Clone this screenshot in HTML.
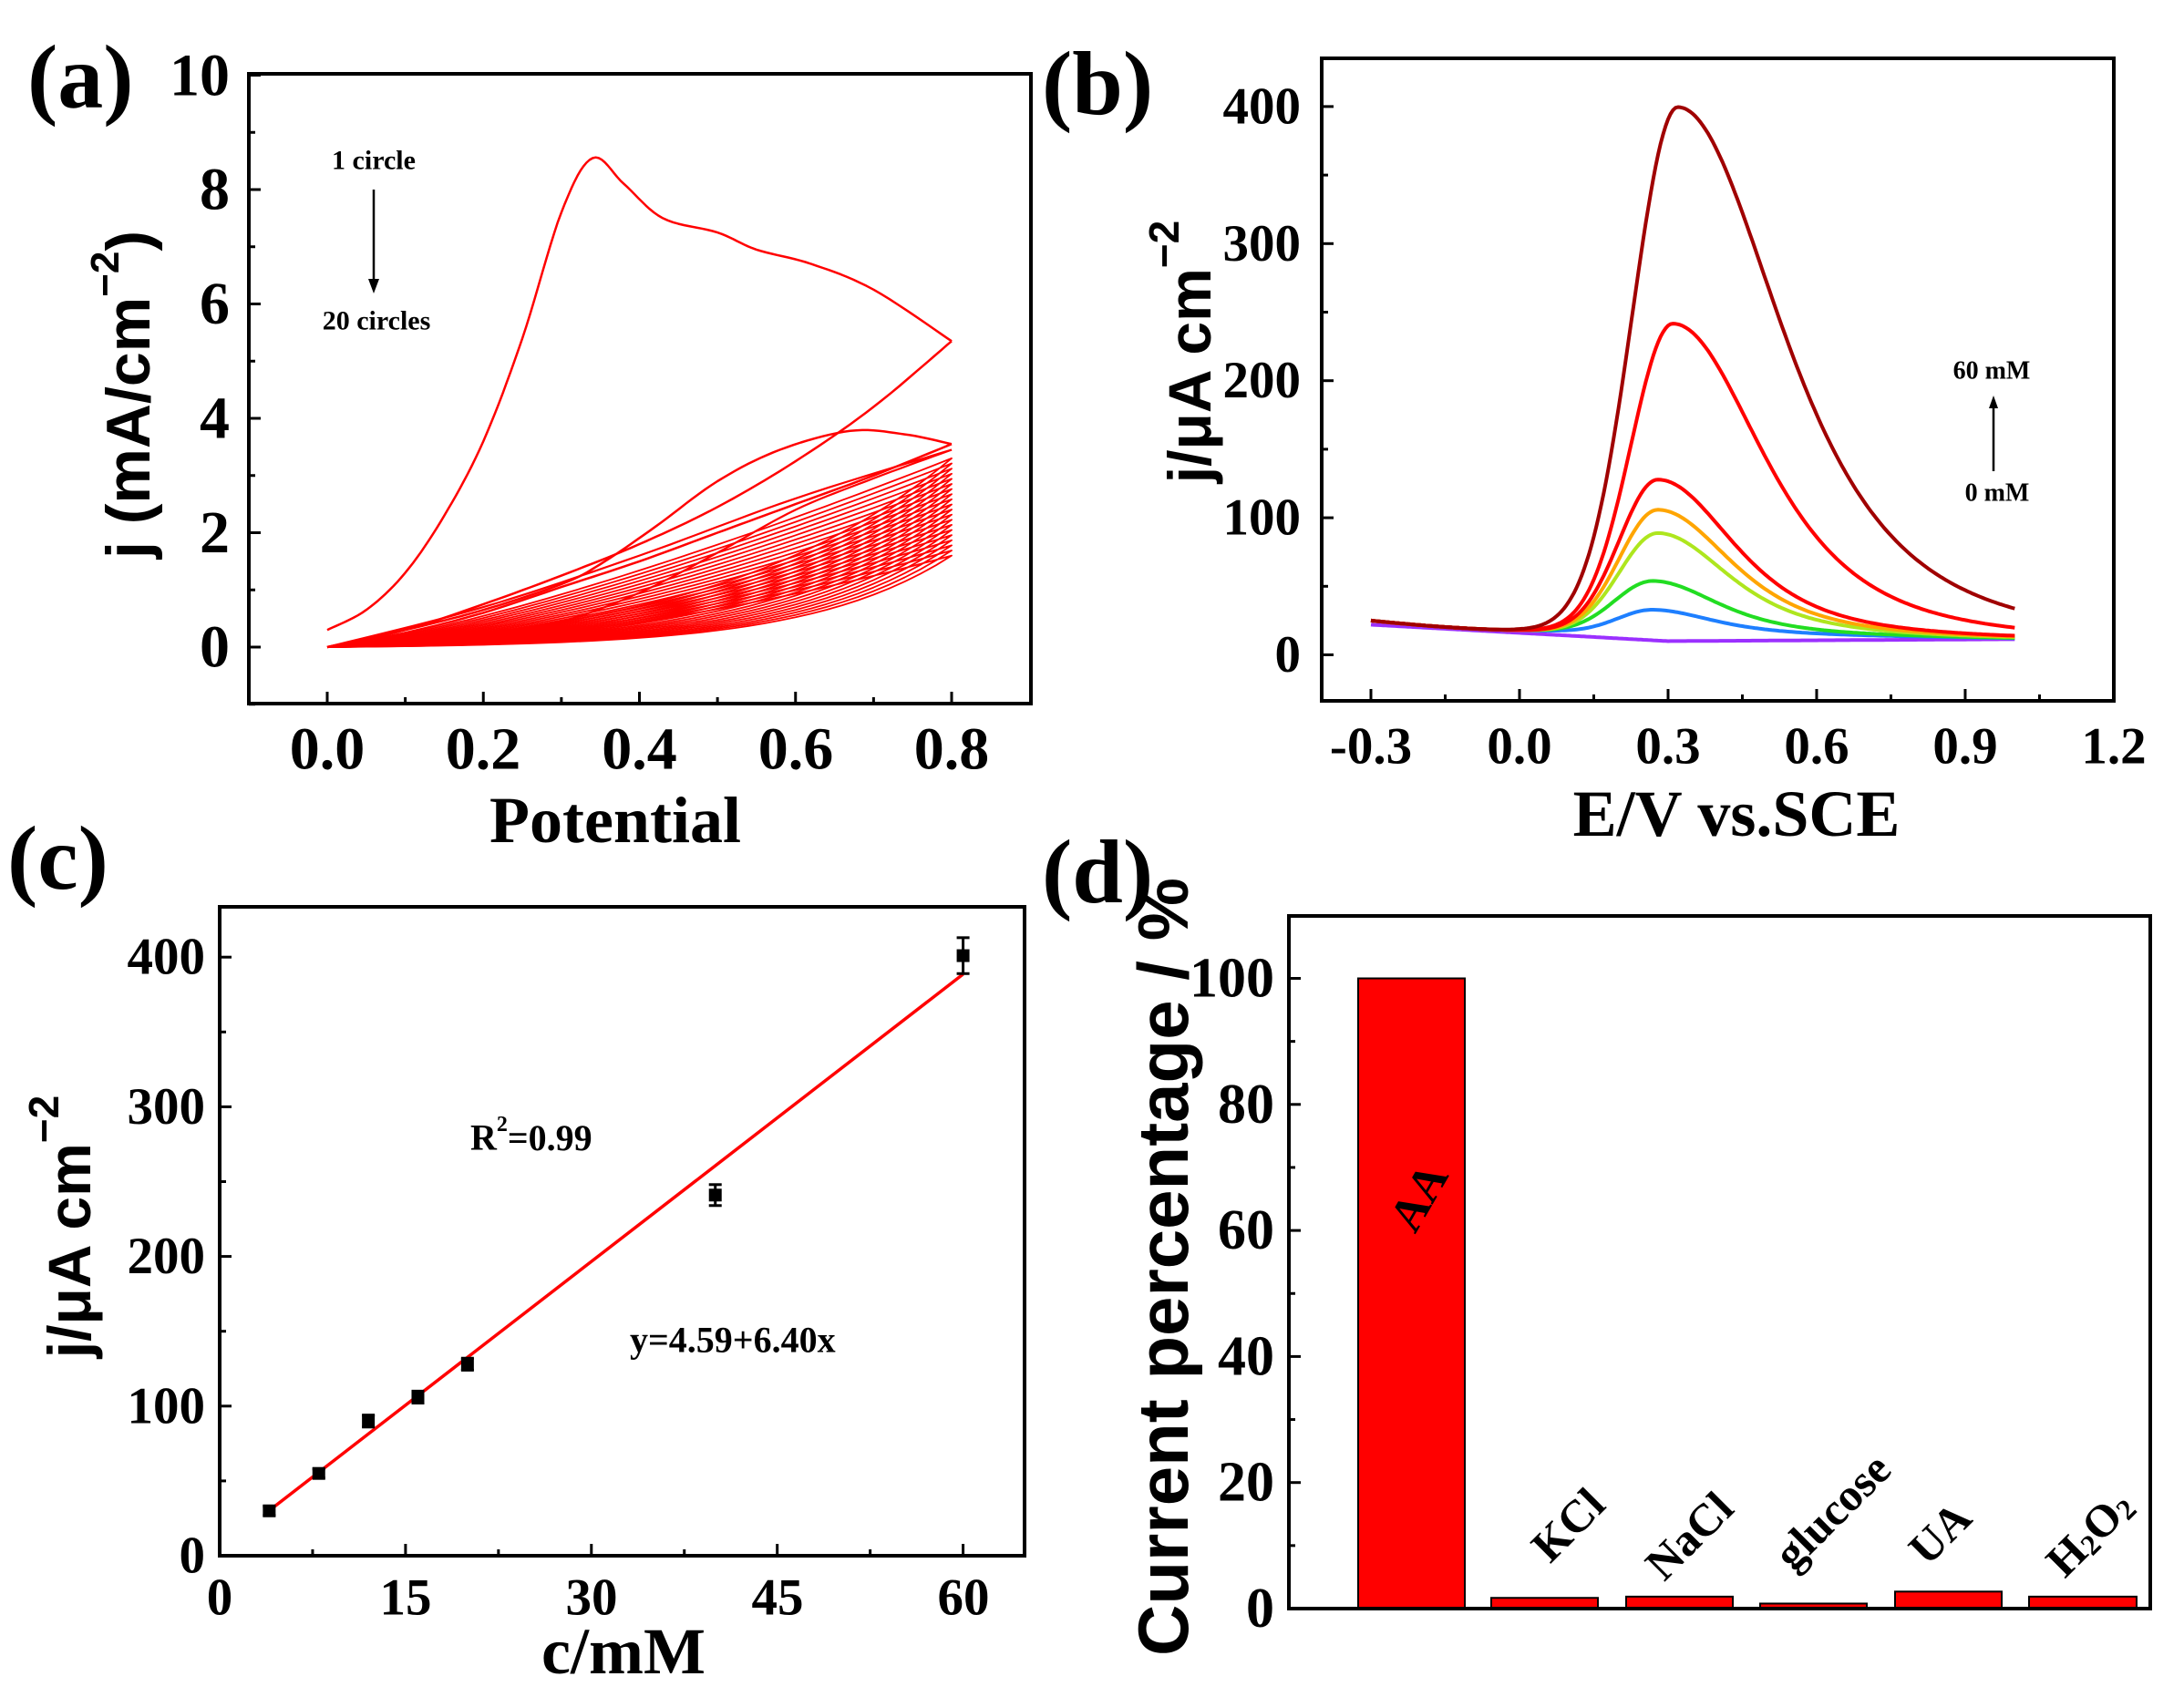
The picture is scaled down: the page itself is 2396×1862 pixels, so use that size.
<!DOCTYPE html>
<html><head><meta charset="utf-8"><style>
html,body{margin:0;padding:0;background:#fff;}
svg{display:block;}
.s{font-family:"Liberation Serif",serif;font-weight:bold;fill:#000;}
.a{font-family:"Liberation Sans",sans-serif;font-weight:bold;fill:#000;}
</style></head><body>
<svg id="sv" width="2396" height="1862" viewBox="0 0 2396 1862" xmlns="http://www.w3.org/2000/svg">
<rect width="2396" height="1862" fill="#fff"/>
<g id="g"></g>
<text class="s" x="30" y="118" font-size="100">(a)</text>
<text class="s" x="1143" y="125" font-size="100">(b)</text>
<text class="s" x="8" y="975" font-size="100">(c)</text>
<text class="s" x="1143" y="990" font-size="100">(d)</text>
<rect x="273" y="81" width="858" height="691" fill="none" stroke="#000" stroke-width="4"/>
<rect x="1450" y="64" width="869" height="705" fill="none" stroke="#000" stroke-width="4"/>
<rect x="241" y="995" width="883" height="712" fill="none" stroke="#000" stroke-width="4"/>
<rect x="1414" y="1005" width="945" height="760" fill="none" stroke="#000" stroke-width="4"/>
<g class="s" font-size="66" text-anchor="end" dominant-baseline="central">
<text x="252" y="710">0</text><text x="252" y="584.5">2</text><text x="252" y="459">4</text>
<text x="252" y="333.5">6</text><text x="252" y="208">8</text><text x="252" y="83">10</text>
</g>
<g class="s" font-size="66" text-anchor="middle" dominant-baseline="central">
<text x="359" y="822">0.0</text><text x="530" y="822">0.2</text><text x="701.5" y="822">0.4</text>
<text x="873" y="822">0.6</text><text x="1044" y="822">0.8</text>
</g>
<text class="s" x="675" y="900" font-size="72" text-anchor="middle" dominant-baseline="central">Potential</text>
<text class="a" transform="translate(141,433) rotate(-90)" font-size="68" text-anchor="middle" dominant-baseline="central">j (mA/cm<tspan font-size="44" dy="-26">−2</tspan><tspan dy="26">)</tspan></text>
<text class="s" x="410" y="176" font-size="30" text-anchor="middle" dominant-baseline="central">1 circle</text>
<line x1="410" y1="208" x2="410" y2="312" stroke="#000" stroke-width="2.5"/>
<polygon points="404,306 416,306 410,322" fill="#000"/>
<text class="s" x="413" y="352" font-size="30" text-anchor="middle" dominant-baseline="central">20 circles</text>
<g class="s" font-size="57" text-anchor="end" dominant-baseline="central">
<text x="1427" y="718.5">0</text><text x="1427" y="568">100</text><text x="1427" y="417.7">200</text>
<text x="1427" y="267.3">300</text><text x="1427" y="117">400</text>
</g>
<g class="s" font-size="57" text-anchor="middle" dominant-baseline="central">
<text x="1504" y="819">-0.3</text><text x="1667" y="819">0.0</text><text x="1830" y="819">0.3</text>
<text x="1993" y="819">0.6</text><text x="2156" y="819">0.9</text><text x="2319" y="819">1.2</text>
</g>
<text class="s" x="1905" y="893" font-size="72" text-anchor="middle" dominant-baseline="central">E/V vs.SCE</text>
<text class="a" transform="translate(1305,386) rotate(-90)" font-size="66" text-anchor="middle" dominant-baseline="central">j/μA cm<tspan font-size="46" dy="-28">−2</tspan></text>
<text class="s" x="2185" y="407" font-size="28" text-anchor="middle" dominant-baseline="central">60 mM</text>
<line x1="2187" y1="517" x2="2187" y2="446" stroke="#000" stroke-width="2.5"/>
<polygon points="2182,448 2192,448 2187,434" fill="#000"/>
<text class="s" x="2191" y="541" font-size="28" text-anchor="middle" dominant-baseline="central">0 mM</text>
<g class="s" font-size="57" text-anchor="end" dominant-baseline="central">
<text x="225" y="1707">0</text><text x="225" y="1542.8">100</text><text x="225" y="1378.6">200</text>
<text x="225" y="1214.4">300</text><text x="225" y="1050.2">400</text>
</g>
<g class="s" font-size="57" text-anchor="middle" dominant-baseline="central">
<text x="241" y="1753">0</text><text x="445" y="1753">15</text><text x="649" y="1753">30</text>
<text x="853" y="1753">45</text><text x="1057" y="1753">60</text>
</g>
<text class="s" x="684" y="1812" font-size="72" text-anchor="middle" dominant-baseline="central">c/mM</text>
<text class="a" transform="translate(76,1346) rotate(-90)" font-size="66" text-anchor="middle" dominant-baseline="central">j/μA cm<tspan font-size="46" dy="-28">−2</tspan></text>
<text class="s" x="516" y="1248" font-size="40" dominant-baseline="central">R<tspan font-size="24" dy="-14">2</tspan><tspan dy="14">=0.99</tspan></text>
<text class="s" x="691" y="1470" font-size="40" dominant-baseline="central">y=4.59+6.40x</text>
<g class="s" font-size="62" text-anchor="end" dominant-baseline="central">
<text x="1398" y="1765">0</text><text x="1398" y="1626.7">20</text><text x="1398" y="1488.4">40</text>
<text x="1398" y="1350">60</text><text x="1398" y="1211.8">80</text><text x="1398" y="1073.5">100</text>
</g>
<text class="a" transform="translate(1276,1390) rotate(-90)" font-size="78" text-anchor="middle" dominant-baseline="central">Current percentage / %</text>
</svg>
<script>
(function(){
var NS="http://www.w3.org/2000/svg", g=document.getElementById("g");
function el(t,a){var e=document.createElementNS(NS,t);for(var k in a)e.setAttribute(k,a[k]);g.appendChild(e);return e;}
function line(x1,y1,x2,y2,w,c){el("line",{x1:x1,y1:y1,x2:x2,y2:y2,stroke:c||"#000","stroke-width":w||3});}
function poly(pts,c,w){var d="M"+pts.map(function(p){return p[0].toFixed(1)+","+p[1].toFixed(1)}).join("L");el("path",{d:d,fill:"none",stroke:c,"stroke-width":w,"stroke-linejoin":"round"});}
function cr(pts,n){var out=[];for(var i=0;i<pts.length-1;i++){var p0=pts[Math.max(0,i-1)],p1=pts[i],p2=pts[i+1],p3=pts[Math.min(pts.length-1,i+2)];
for(var t=0;t<n;t++){var s=t/n,s2=s*s,s3=s2*s;var f=function(a,b,c,d){return 0.5*(2*b+(-a+c)*s+(2*a-5*b+4*c-d)*s2+(-a+3*b-3*c+d)*s3)};out.push([f(p0[0],p1[0],p2[0],p3[0]),f(p0[1],p1[1],p2[1],p3[1])]);}}
out.push(pts[pts.length-1]);return out;}
var AX=function(v){return 359+v*856.25}, AY=function(j){return 710-j*62.75};
for(var i=0;i<=8;i++){var x=AX(i*0.1);line(x,772,x,772-(i%2?7:13),3);}
for(var i=-1;i<=10;i++){var y=AY(i);line(273,y,273+(i%2?7:13),y,3);}
var red="#ff0000";
function ap(arr){return cr(arr.map(function(p){return[AX(p[0]),AY(p[1])]}),10);}
poly(ap([[0,0.3],[0.05,0.65],[0.1,1.3],[0.15,2.3],[0.2,3.6],[0.25,5.4],[0.3,7.6],[0.34,8.55],[0.38,8.1],[0.43,7.5],[0.5,7.25],[0.55,6.95],[0.62,6.7],[0.7,6.25],[0.8,5.35]]),red,2.5);
poly(ap([[0.8,5.35],[0.7,4.2],[0.6,3.25],[0.5,2.45],[0.4,1.8],[0.3,1.25],[0.2,0.75],[0.1,0.3],[0,0]]),red,2.5);
poly(ap([[0,0],[0.1,0.3],[0.2,0.65],[0.3,1.1],[0.35,1.45],[0.42,2.1],[0.5,2.9],[0.58,3.45],[0.67,3.78],[0.74,3.72],[0.8,3.55]]),red,2.5);
poly(ap([[0.8,3.55],[0.7,3.0],[0.6,2.5],[0.5,2.0],[0.4,1.5],[0.3,1.05],[0.2,0.6],[0.1,0.25],[0,0]]),red,2.5);
poly(ap([[0,0],[0.1,0.1],[0.2,0.25],[0.3,0.45],[0.4,0.95],[0.5,1.65],[0.6,2.4],[0.7,2.95],[0.8,3.45]]),red,2.2);
poly(ap([[0.8,3.45],[0.6,2.6],[0.4,1.6],[0.2,0.7],[0,0]]),red,2.2);
for(var k=0;k<20;k++){var e=3.3-k*(1.7/19),kk=3.2+k*0.12,p=1.3+k*0.03,f=[],r=[];
for(var s=0;s<=40;s++){var v=0.8*s/40;f.push([AX(v),AY(e*(Math.exp(kk*v)-1)/(Math.exp(0.8*kk)-1))]);r.push([AX(0.8-v),AY(e*Math.pow((0.8-v)/0.8,p))]);}
poly(f.concat(r),red,1.8);}
var BX=function(v){return 1667+v*543.3}, BY=function(j){return 718.5-j*150.4/100};
for(var i=1;i<=10;i++){var x=BX(-0.45+i*0.15);line(x,769,x,769-(i%2?13:7),3);}
for(var i=0;i<=8;i++){var y=BY(i*50);line(1450,y,1450+(i%2?7:13),y,3);}
function base(v){return v<0?18+7*Math.pow(-v/0.3,1.6):18-6*Math.pow(v,0.8);}
function pk(v,h,c,sl,w){var d=v-c;if(d<0)return h*Math.exp(-(d/sl)*(d/sl));var x=d/w;return h/Math.pow(1+x*x,2);}
var ser=[["#9b30ff",0,0.28,0.1,0.2],["#1e7fff",17,0.27,0.1,0.22],["#22dd22",38,0.27,0.11,0.24],["#aee61e",73,0.28,0.11,0.26],["#ffa500",90,0.28,0.11,0.27],["#ff0000",112,0.28,0.11,0.28],["#ff0000",226,0.31,0.12,0.33],["#a00000",384,0.32,0.13,0.38]];
ser.forEach(function(s,idx){var pts=[];for(var t=0;t<=260;t++){var v=-0.3+1.3*t/260;var b=idx==0?(v<0.3?22-12*(v+0.3)/0.6:10+(v-0.3)*2):base(v);pts.push([BX(v),BY(b+pk(v,s[1],s[2],s[3],s[4]))]);}poly(pts,s[0],4);});
var CX=function(c){return 241+c*13.593}, CY=function(j){return 1707-j*1.642};
for(var i=1;i<=8;i++){var x=CX(i*7.5);line(x,1707,x,1707-(i%2?7:13),3);}
for(var i=1;i<=8;i++){var y=CY(i*50);line(241,y,241+(i%2?7:13),y,3);}
poly([[CX(4),CY(30.2)],[CX(60),CY(388.6)]],red,3.5);
[[4,30,3],[8,55,3],[12,90,4],[16,106,4],[20,128,4],[40,241,7],[60,401,12]].forEach(function(d){var x=CX(d[0]),y=CY(d[1]),e=d[2]*1.642;
line(x,y-e,x,y+e,3);line(x-7,y-e,x+7,y-e,3);line(x-7,y+e,x+7,y+e,3);el("rect",{x:x-7,y:y-7,width:14,height:14,fill:"#000"});});
var DY=function(p){return 1765-p*6.915};
for(var i=1;i<=10;i++){var y=DY(i*10);line(1414,y,1414+(i%2?7:13),y,3);}
[[1490,1607,100],[1636,1753,1.7],[1784,1901,1.9],[1931,2048,0.8],[2079,2196,2.7],[2226,2344,1.9]].forEach(function(b){el("rect",{x:b[0],y:DY(b[2]),width:b[1]-b[0],height:1765-DY(b[2]),fill:"#ff0000",stroke:"#000","stroke-width":2});});
function rt(x,y,a,txt,fs,html){var t=el("text",{class:"s",transform:"translate("+x+","+y+") rotate("+a+")","font-size":fs,"text-anchor":"middle","dominant-baseline":"central"});if(html)t.innerHTML=txt;else t.textContent=txt;}
rt(1557,1314,-60,"AA",52);
rt(1720,1673,-45,"KCl",50);
rt(1853,1685,-45,"NaCl",50);
rt(2010,1658,-45,"glucose",50);
rt(2128,1682,-45,"UA",50);
rt(2292,1682,-45,'H<tspan font-size="32" dy="10">2</tspan><tspan dy="-10">O</tspan><tspan font-size="32" dy="10">2</tspan>',50,true);
})();
</script>
</body></html>
